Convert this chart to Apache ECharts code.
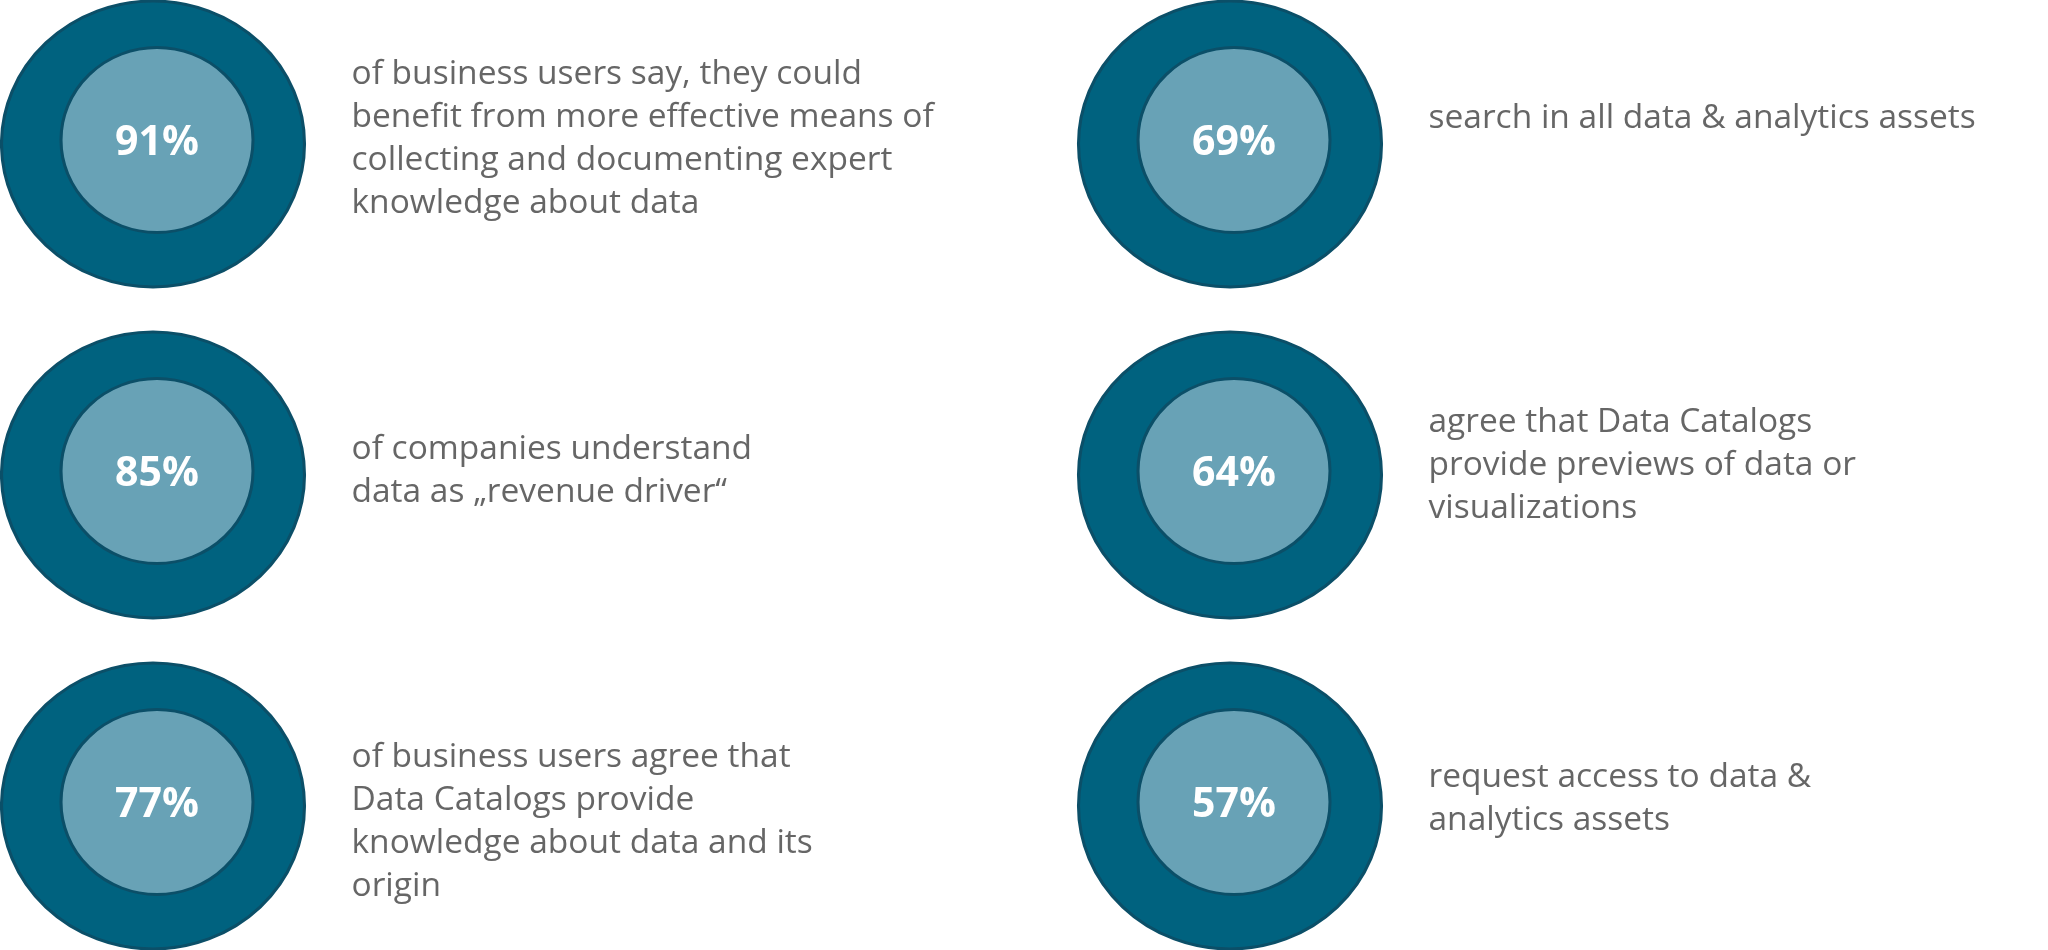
<!DOCTYPE html>
<html>
<head>
    <meta charset="utf-8">
    <title>Data Catalog survey</title>
    <script src="https://cdn.jsdelivr.net/npm/echarts@6/dist/echarts.min.js"></script>
    <style>html, body { margin: 0; padding: 0; background: #fff; }</style>
</head>
<body>
    <div id="main" style="width: 2048px;height:950px;"></div>
    <script type="text/javascript">
var percents = [91, 85, 77, 69, 64, 57]
var columns = [0, 0, 0, 1, 1, 1]
var rows = [0, 1, 2, 0, 1, 2]
var captions = [
  'of business users say, they could\nbenefit from more effective means of\ncollecting and documenting expert\nknowledge about data',
  'of companies understand\ndata as „revenue driver“',
  'of business users agree that\nData Catalogs provide\nknowledge about data and its\norigin',
  'search in all data & analytics assets',
  'agree that Data Catalogs\nprovide previews of data or\nvisualizations',
  'request access to data &\nanalytics assets'
]
// vertical shift of each caption against its circle, px
var captionShift = [-5, -4, 16, -26, -10, -7]

var myChart = echarts.init(document.getElementById('main'))

var points = percents.map(function (p, i) {
  return [columns[i], rows[i], p]
})

var option = {
  backgroundColor: '#fff',
  animation: false,
  grid: { left: 153, top: 144, width: 1077, height: 662 },
  xAxis: { type: 'value', min: 0, max: 1, show: false },
  yAxis: { type: 'value', min: 0, max: 2, inverse: true, show: false },
  series: [{
    // outer ring
    type: 'scatter',
    silent: true,
    clip: false,
    symbol: 'circle',
    symbolSize: [303, 286],
    itemStyle: { color: '#00627f', borderColor: '#0b4f68', borderWidth: 3, opacity: 1 },
    data: points
  }, {
    // inner disc with the number
    type: 'scatter',
    silent: true,
    clip: false,
    symbol: 'circle',
    symbolSize: [192, 185],
    symbolOffset: [4, -4],
    itemStyle: { color: '#68a2b6', borderColor: '#0b4f68', borderWidth: 3, opacity: 1 },
    label: {
      show: true,
      position: 'inside',
      offset: [0, 3],
      color: '#fff',
      fontFamily: 'Open Sans',
      fontWeight: 'bold',
      fontSize: 41,
      formatter: function (a) { return a.value[2] + '%' }
    },
    data: points
  }, {
    // captions
    type: 'scatter',
    silent: true,
    clip: false,
    symbolSize: 1,
    itemStyle: { color: 'transparent' },
    data: points.map(function (pt, i) {
      return {
        value: pt,
        label: {
          show: true,
          position: 'right',
          distance: 0,
          offset: [198, captionShift[i]],
          align: 'left',
          color: '#404040',
          fontFamily: 'Open Sans',
          fontSize: 33.5,
          lineHeight: 43,
          formatter: captions[i]
        }
      }
    })
  }]
}
myChart.setOption(option)
    </script>
</body>
</html>
